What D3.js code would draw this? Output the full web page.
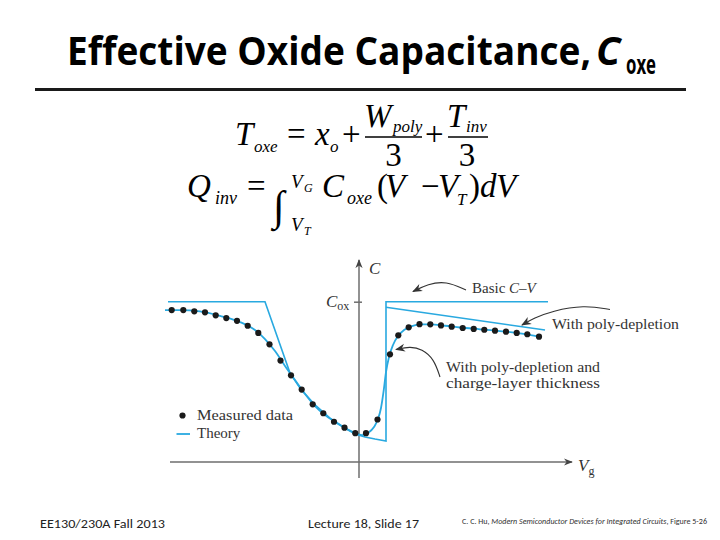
<!DOCTYPE html>
<html><head><meta charset="utf-8">
<script src="https://cdn.jsdelivr.net/npm/d3@7"></script>
<style>html,body{margin:0;padding:0;background:#fff;}svg{display:block;}</style>
</head><body>
<svg id="chart" width="720" height="540"></svg>
<script>
// ---- Data (Vg in arbitrary units, C normalised to Cox) ----
const measuredVg = [-1.873,-1.757,-1.647,-1.54,-1.433,-1.327,-1.22,-1.113,-1.007,-0.895,-0.785,-0.68,-0.573,-0.463,-0.357,-0.25,-0.145,-0.037,0.07,0.185,0.31,0.393,0.497,0.605,0.713,0.82,0.927,1.037,1.147,1.253,1.36,1.47,1.577,1.683,1.80];
const measuredC  = [0.948,0.948,0.940,0.934,0.915,0.898,0.881,0.850,0.805,0.734,0.633,0.541,0.452,0.360,0.304,0.251,0.214,0.180,0.180,0.265,0.672,0.790,0.840,0.860,0.859,0.852,0.844,0.836,0.830,0.825,0.819,0.813,0.805,0.797,0.782];

const theoryVg = [-1.94,-1.79,-1.59,-1.39,-1.19,-1.04,-0.94,-0.84,-0.74,-0.64,-0.54,-0.44,-0.34,-0.24,-0.14,-0.04,0.03,0.09,0.15,0.19,0.22,0.245,0.27,0.30,0.34,0.39,0.45,0.53,0.61,0.71,0.86,1.01,1.21,1.41,1.61,1.81];
const theoryC  = [0.948,0.948,0.939,0.911,0.873,0.823,0.767,0.692,0.599,0.511,0.424,0.349,0.293,0.250,0.212,0.181,0.168,0.181,0.218,0.268,0.337,0.437,0.561,0.655,0.730,0.786,0.823,0.848,0.858,0.858,0.850,0.839,0.828,0.817,0.802,0.780];

const basicVg = [-1.91,-0.94,-0.69,-0.59,-0.44,-0.29,-0.14,-0.04,0.06,0.16,0.27,0.27,1.89];
const basicC  = [1.0,1.0,0.555,0.462,0.356,0.274,0.212,0.175,0.156,0.143,0.131,1.0,1.0];

const polyVg = [0.27,1.86];
const polyC  = [0.965,0.823];

const legendLabels = ["Measured data","Theory"];
const tickLabels = ["C","ox"];

const svg = d3.select("#chart");
const x = d3.scaleLinear().domain([-1.89, 2.11]).range([170, 570]);
const y = d3.scaleLinear().domain([0, 1]).range([462, 301.7]);

const CYAN = "#29a9e0", AX = "#6e6e6e", TXT = "#333";
const serif = "'Liberation Serif','Times New Roman',serif";

// ---- Title ----
const tf = "'Liberation Sans Narrow','Open Sans',Lato,sans-serif";
svg.append("text").attr("x",67).attr("y",65).attr("font-family",tf).attr("font-weight","bold")
  .attr("font-size",40).attr("textLength",524).attr("lengthAdjust","spacingAndGlyphs").attr("fill","#000")
  .text("Effective Oxide Capacitance,");
svg.append("text").attr("x",596).attr("y",65).attr("font-family",tf).attr("font-weight","bold").attr("font-style","italic")
  .attr("font-size",40).attr("fill","#000").text("C");
svg.append("text").attr("x",626).attr("y",74).attr("font-family",tf).attr("font-weight","bold")
  .attr("font-size",26).attr("textLength",30).attr("lengthAdjust","spacingAndGlyphs").attr("fill","#000").text("oxe");
svg.append("line").attr("x1",35).attr("x2",686).attr("y1",89.5).attr("y2",89.5).attr("stroke","#1a1a1a").attr("stroke-width",3);

// ---- Equations (each equation one text element of positioned tspans) ----
function eq(parts){
  const te = svg.append("text").attr("font-family",serif).attr("fill","#000");
  parts.forEach(p=>{
    const s = te.append("tspan").attr("x",p[0]).attr("y",p[1]).attr("font-size",p[3])
      .attr("font-style",p[4]?"italic":"normal").text(p[2]);
    if(p[5]) s.attr("text-anchor","middle");
  });
  return te;
}
eq([[235,145,"T",33,true],[254,152,"oxe",17,true],[287,145,"=",33,false],[315,145,"x",33,true],
    [330,152,"o",17,true],[342,145,"+",33,false],[364,127,"W",33,true],[393,132,"poly",17,true],
    [425,145,"+",33,false],[447,127,"T",33,true],[466,132,"inv",17,true]]);
eq([[393.5,166,"3",33,false,true],[467,166,"3",33,false,true]]);
svg.append("line").attr("x1",365).attr("x2",422).attr("y1",137).attr("y2",137).attr("stroke","#000").attr("stroke-width",1.3);
svg.append("line").attr("x1",448).attr("x2",488).attr("y1",137).attr("y2",137).attr("stroke","#000").attr("stroke-width",1.3);
eq([[187,197,"Q",33,true],[215,204,"inv",18,true],[247,197,"=",33,false],[273,220,"\u222B",42,false],
    [291,188,"V",19,true],[304,192,"G",12,true],[291,231,"V",19,true],[304,235,"T",12,true],
    [322,197,"C",33,true],[347,204,"oxe",18,true],[377,197,"(",33,false],[385,197,"V",33,true],
    [421,197,"\u2212",33,false],[438,197,"V",33,true],[457,205,"T",17,true],
    [469,197,")",33,false],[480,197,"d",33,true],[496,197,"V",33,true]]);

// ---- Axes ----
const defs = svg.append("defs");
defs.append("marker").attr("id","axarr").attr("viewBox","0 0 10 10").attr("refX",9).attr("refY",5)
  .attr("markerWidth",9).attr("markerHeight",9).attr("markerUnits","userSpaceOnUse").attr("orient","auto")
  .append("path").attr("d","M0,1 L10,5 L0,9 L3,5 Z").attr("fill","#444");
defs.append("marker").attr("id","annarr").attr("viewBox","0 0 10 10").attr("refX",9).attr("refY",5)
  .attr("markerWidth",10).attr("markerHeight",10).attr("markerUnits","userSpaceOnUse").attr("orient","auto")
  .append("path").attr("d","M0,1 L10,5 L0,9 L3,5 Z").attr("fill","#333");

const x0 = x(0);
svg.append("line").attr("x1",x.range()[0]).attr("x2",572).attr("y1",y(0)).attr("y2",y(0))
  .attr("stroke",AX).attr("stroke-width",1.5).attr("marker-end","url(#axarr)");
svg.append("line").attr("x1",x0).attr("x2",x0).attr("y1",478).attr("y2",260)
  .attr("stroke",AX).attr("stroke-width",1.5).attr("marker-end","url(#axarr)");
// Cox tick via axis
const yAxis = d3.axisLeft(y).tickValues([1]).tickFormat("").tickSizeInner(5).tickSizeOuter(0);
const gA = svg.append("g").attr("transform",`translate(${x0+3},0)`).call(yAxis);
gA.select(".domain").remove();
gA.selectAll(".tick line").attr("stroke",AX).attr("stroke-width",1.5).attr("x2",-8);
svg.append("text").attr("x",x0-33).attr("y",y(1)+5).attr("font-family",serif).attr("font-size",17)
  .attr("font-style","italic").attr("fill",TXT).text(tickLabels[0])
  .append("tspan").attr("font-style","normal").attr("font-size",12).attr("dy",3).text(tickLabels[1]);
svg.append("text").attr("x",x0+10).attr("y",274).attr("font-family",serif).attr("font-size",17)
  .attr("font-style","italic").attr("fill",TXT).text("C");
svg.append("text").attr("x",578).attr("y",471).attr("font-family",serif).attr("font-size",17)
  .attr("font-style","italic").attr("fill",TXT).text("V")
  .append("tspan").attr("font-style","normal").attr("font-size",12).attr("dy",4).text("g");

// ---- Curves ----
const lineGen = d3.line().x(d=>x(d[0])).y(d=>y(d[1]));
const smooth = d3.line().x(d=>x(d[0])).y(d=>y(d[1])).curve(d3.curveMonotoneX);
svg.append("path").attr("d",lineGen(d3.zip(basicVg,basicC))).attr("fill","none").attr("stroke",CYAN).attr("stroke-width",1.6);
svg.append("path").attr("d",lineGen(d3.zip(polyVg,polyC))).attr("fill","none").attr("stroke",CYAN).attr("stroke-width",1.6);
svg.append("path").attr("d",smooth(d3.zip(theoryVg,theoryC))).attr("fill","none").attr("stroke",CYAN).attr("stroke-width",1.8);
svg.append("g").selectAll("circle").data(d3.zip(measuredVg,measuredC)).join("circle")
  .attr("cx",d=>x(d[0])).attr("cy",d=>y(d[1])).attr("r",3.1).attr("fill","#1a1a1a");

// ---- Annotations ----
function ann(pts){
  svg.append("path").attr("d",d3.line().curve(d3.curveBasis)(pts)).attr("fill","none")
    .attr("stroke","#333").attr("stroke-width",1.1).attr("marker-end","url(#annarr)");
}
ann([[466,290],[446,281],[428,284],[413,291.5]]);
ann([[610,309.5],[584,305],[552,311],[534,318],[522,325]]);
ann([[440,377],[434,359],[422,349],[410,346.5],[396,349.5]]);

const annTxt = (xp,yp)=>svg.append("text").attr("x",xp).attr("y",yp).attr("font-family",serif).attr("font-size",15).attr("fill",TXT);
const b = annTxt(472,293); b.append("tspan").text("Basic "); b.append("tspan").attr("font-style","italic").text("C\u2013V");
annTxt(552,329).attr("textLength",127).attr("lengthAdjust","spacingAndGlyphs").text("With poly-depletion");
annTxt(446,372).attr("textLength",154).attr("lengthAdjust","spacingAndGlyphs").text("With poly-depletion and");
annTxt(446,388).attr("textLength",154).attr("lengthAdjust","spacingAndGlyphs").text("charge-layer thickness");

// ---- Legend ----
svg.append("circle").attr("cx",182.5).attr("cy",415.5).attr("r",3.1).attr("fill","#1a1a1a");
annTxt(197,420).attr("textLength",96).attr("lengthAdjust","spacingAndGlyphs").text(legendLabels[0]);
svg.append("line").attr("x1",176.5).attr("x2",190).attr("y1",434).attr("y2",434).attr("stroke",CYAN).attr("stroke-width",1.8);
annTxt(197,438).text(legendLabels[1]);

// ---- Footer ----
const ff = "Carlito,'Open Sans',Lato,sans-serif";
svg.append("text").attr("x",40).attr("y",528).attr("font-family",ff).attr("font-size",13).attr("fill","#222")
  .attr("textLength",125).attr("lengthAdjust","spacingAndGlyphs").text("EE130/230A Fall 2013");
svg.append("text").attr("x",308).attr("y",528).attr("font-family",ff).attr("font-size",13).attr("fill","#222")
  .attr("textLength",111).attr("lengthAdjust","spacingAndGlyphs").text("Lecture 18, Slide 17");
const cit = svg.append("text").attr("x",462).attr("y",524).attr("font-family",ff).attr("font-size",7.5).attr("fill","#333")
  .attr("textLength",245).attr("lengthAdjust","spacingAndGlyphs");
cit.append("tspan").text("C. C. Hu, ");
cit.append("tspan").attr("font-style","italic").text("Modern Semiconductor Devices for Integrated Circuits");
cit.append("tspan").text(", Figure 5-26");
</script>
</body></html>
